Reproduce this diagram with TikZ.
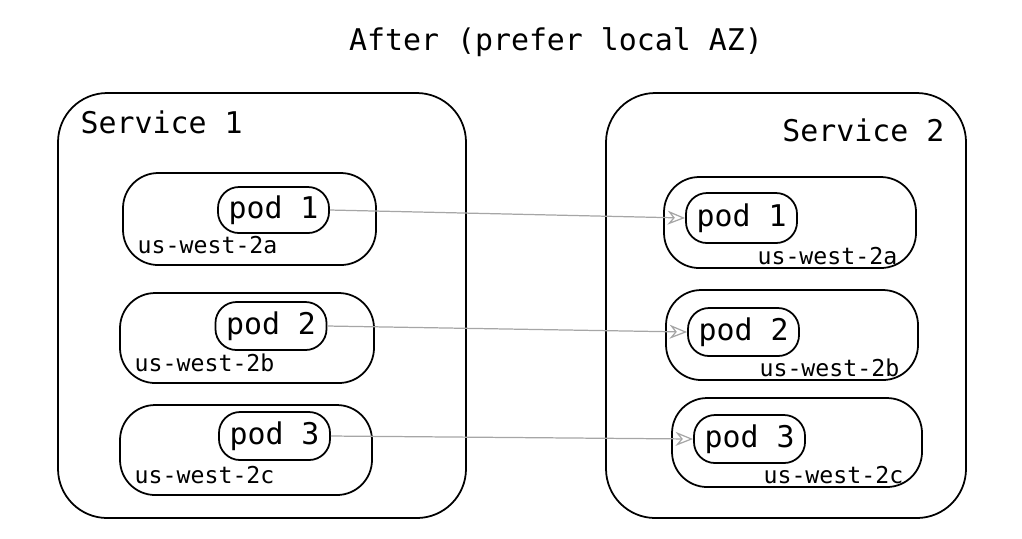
\documentclass[tikz,border=0pt]{standalone}
\usepackage{fontspec}
\setmonofont{DejaVu Sans Mono}
\usetikzlibrary{positioning,arrows.meta}
\tikzset{
    svc box/.style={draw,rounded corners=14pt,line width=0.5pt},
    zone box/.style={draw,rounded corners=10pt,line width=0.5pt},
    pod box/.style={draw,rounded corners=6pt,line width=0.5pt,
        font=\ttfamily\fontsize{8.5}{10}\selectfont,inner sep=0pt,
        minimum width=1.11cm,minimum height=0.48cm},
    zone label/.style={font=\ttfamily\fontsize{6.6}{8}\selectfont,inner sep=0pt},
    link/.style={-{Stealth[length=5pt,width=4pt,open]},draw=gray!70,line width=0.35pt}
}
\begin{document}
\begin{tikzpicture}[x=0.01cm,y=-0.01cm]
  \useasboundingbox (0,0) rectangle (1022,538);
  \node[font=\ttfamily\fontsize{8.5}{10}\selectfont] (title) at (556,42) {After (prefer local AZ)};
  % services
  \draw[svc box] (58,93) rectangle (466,518);
  \draw[svc box] (606,93) rectangle (966,518);
  \node[font=\ttfamily\fontsize{8.5}{10}\selectfont,anchor=west,inner sep=0pt] (s1) at (80,122) {Service 1};
  \node[font=\ttfamily\fontsize{8.5}{10}\selectfont,anchor=east,inner sep=0pt] (s2) at (945,130) {Service 2};
  % zones of service 1
  \foreach \n/\x/\y/\X/\Y/\z in {1/123/173/376/265/a,2/120/293/374/383/b,3/120/405/372/495/c}{
    \draw[zone box] (\x,\y) rectangle (\X,\Y);
    \node[zone label,anchor=west] (L\n) at (\x+14,\Y-20) {us-west-2\z};
  }
  % zones of service 2
  \foreach \n/\x/\y/\X/\Y/\z in {1/664/177/916/268/a,2/666/290/918/380/b,3/672/398/922/487/c}{
    \draw[zone box] (\x,\y) rectangle (\X,\Y);
    \node[zone label,anchor=east] (R\n) at (\X-18,\Y-12) {us-west-2\z};
  }
  % pods
  \node[pod box,minimum height=0.46cm] (A1) at (273.5,210) {pod 1};
  \node[pod box] (A2) at (271,326) {pod 2};
  \node[pod box] (A3) at (274.5,436) {pod 3};
  \node[pod box,minimum height=0.50cm] (B1) at (741.5,218) {pod 1};
  \node[pod box] (B2) at (743.5,332) {pod 2};
  \node[pod box] (B3) at (749.5,439) {pod 3};
  \foreach \i in {1,2,3}
    \draw[link] (A\i.east) -- (B\i.west);
\end{tikzpicture}
\end{document}
